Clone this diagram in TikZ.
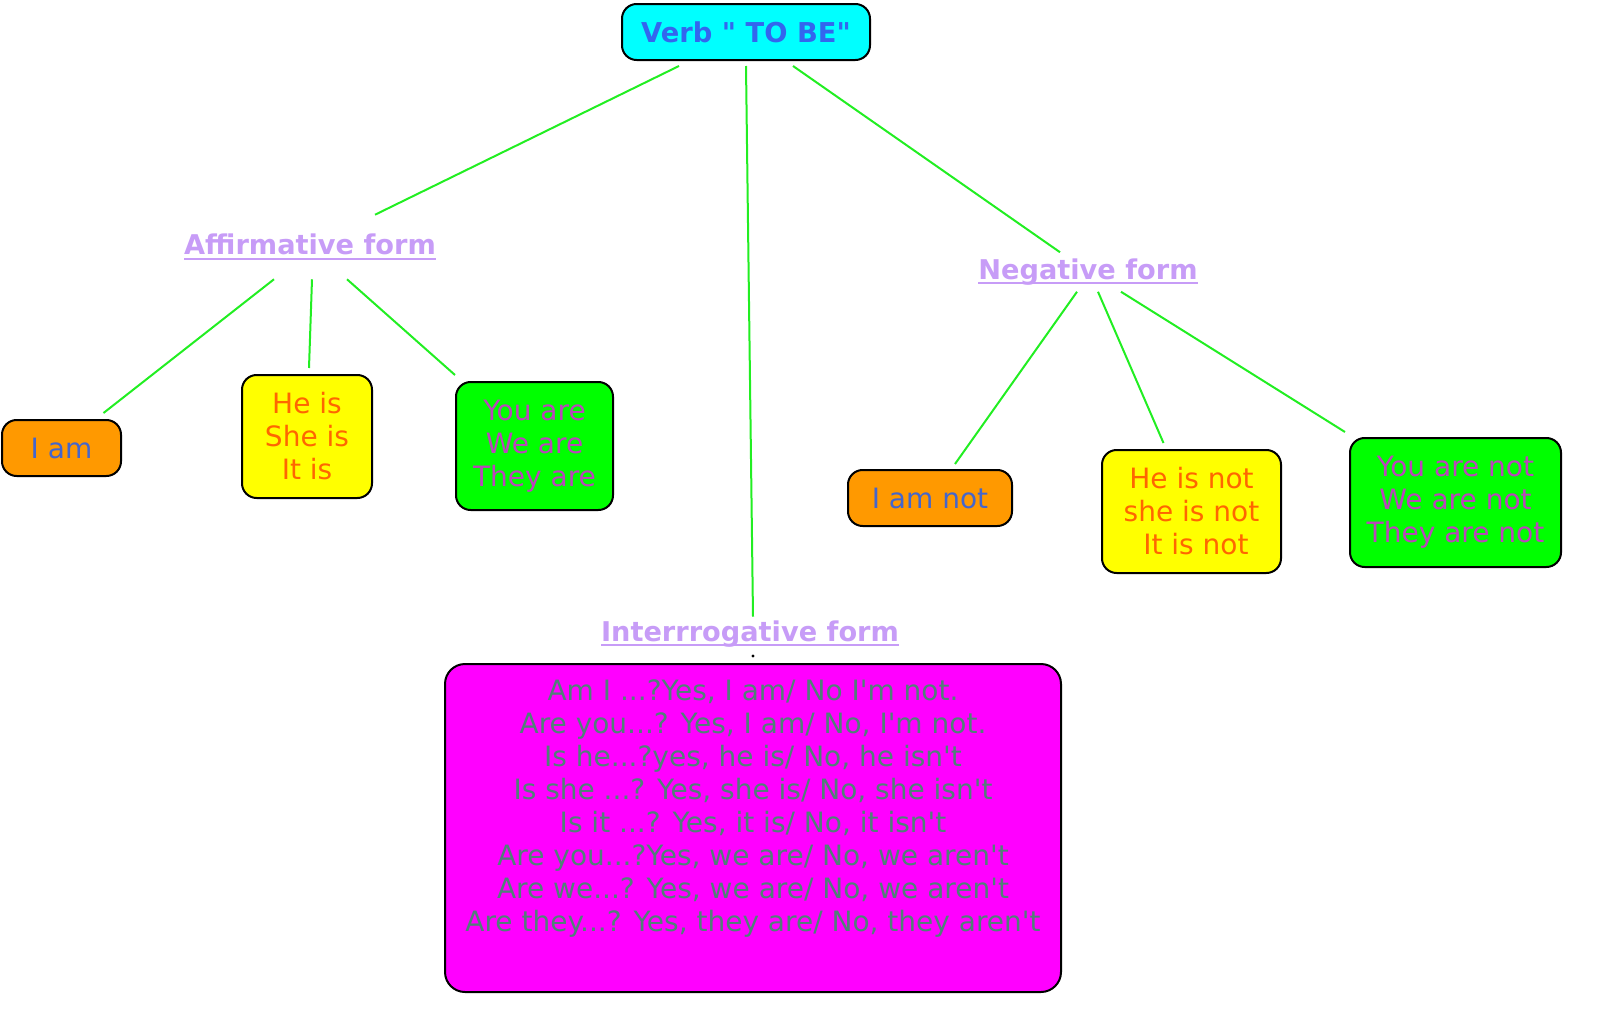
\documentclass[tikz,border=0pt]{standalone}
\usepackage{fontspec}
\setmainfont{DejaVu Sans}[Ligatures=TeXOff]
\usetikzlibrary{calc}
\newcommand{\headul}[1]{\setbox0\hbox{#1}\rlap{\vrule height -2.2pt depth 3.8pt width \wd0}\box0}

\definecolor{verbfill}{HTML}{00FFFF}
\definecolor{verbtext}{HTML}{3366EE}
\definecolor{headpurple}{HTML}{C79CF7}
\definecolor{linegreen}{HTML}{22EE22}
\definecolor{amfill}{HTML}{FF9900}
\definecolor{amtext}{HTML}{4466CC}
\definecolor{isfill}{HTML}{FFFF00}
\definecolor{istext}{HTML}{FF6600}
\definecolor{arefill}{HTML}{00FF00}
\definecolor{aretext}{HTML}{BB44BB}
\definecolor{askfill}{HTML}{FF00FF}
\definecolor{asktext}{HTML}{508078}

\begin{document}
\begin{tikzpicture}[x=0.75pt,y=-0.75pt]

\tikzset{box/.style = {draw, line width=1.5pt, rounded corners=11pt, inner sep=0pt, align=center, font=\fontsize{21pt}{24.75pt}\selectfont}}
\tikzset{title/.style = {inner sep=0pt, text=headpurple, font=\bfseries\fontsize{20.4pt}{24pt}\selectfont}}
\tikzset{branch/.style = {draw=linegreen, line width=1.5pt}}

\useasboundingbox (0,0) rectangle (1600,1017);

%verticies
\node[box, fill=verbfill, text=verbtext, minimum width=186pt, minimum height=42pt, font=\bfseries\fontsize{20.5pt}{24pt}\selectfont] (verb) at (746,32) {Verb " TO BE"};
\node[title, minimum height=48pt] (aff) at (310,247) {\headul{Affirmative form}};
\node[title, minimum height=29.25pt] (neg) at (1088,272) {\headul{Negative form}};
\node[title, minimum height=25.5pt] (askTitle) at (750,634) {\headul{Interrrogative form}};

\node[box, fill=amfill, text=amtext, minimum width=89.25pt, minimum height=42pt] (amA) at (61.5,448) {I am};
\node[box, fill=isfill, text=istext, minimum width=97.5pt, minimum height=92.25pt] (isA) at (307,436.5) {He is\\She is\\It is};
\node[box, fill=arefill, text=aretext, minimum width=117.75pt, minimum height=96pt] (areA) at (534.5,446) {You are\\We are\\They are};

\node[box, fill=amfill, text=amtext, minimum width=123pt, minimum height=42pt] (amN) at (930,498) {I am not};
\node[box, fill=isfill, text=istext, minimum width=134.25pt, minimum height=92.25pt] (isN) at (1191.5,511.5) {He is not\\she is not\\\ It is not};
\node[box, fill=arefill, text=aretext, minimum width=158.25pt, minimum height=96.75pt] (areN) at (1455.5,502.5) {You are not\\We are not\\They are not};

\node[box, fill=askfill, rounded corners=15pt, minimum width=462pt, minimum height=246pt] (ask) at (753,828) {};
\node[inner sep=0pt, align=center, text=asktext, font=\fontsize{21pt}{24.75pt}\selectfont] (askText) at (753,809) {Am I ...?Yes, I am/ No I'm not.\\Are you...? Yes, I am/ No, I'm not.\\Is he...?yes, he is/ No, he isn't\hspace{24pt}\\Is she ...? Yes, she is/ No, she isn't\\Is it ...? Yes, it is/ No, it isn't\\Are you...?Yes, we are/ No, we aren't\\Are we...? Yes, we are/ No, we aren't\\Are they...? Yes, they are/ No, they aren't};
\fill ($(ask.north)+(0,-7)$) circle (1.2pt);

%edges
\draw[branch] ($(verb.south)+(-67,5)$) -- ($(aff.north)+(65,0)$);
\draw[branch] ($(verb.south)+(0,5)$) -- ($(askTitle.north)+(3,0)$);
\draw[branch] ($(verb.south)+(47,5)$) -- ($(neg.north)+(-28,0)$);

\draw[branch] ($(aff.south)+(-36,0)$) -- ($(amA.north)+(42,-6)$);
\draw[branch] ($(aff.south)+(2,0)$) -- ($(isA.north)+(2,-6)$);
\draw[branch] ($(aff.south)+(37,0)$) -- ($(areA.north west)+(0,-6)$);

\draw[branch] ($(neg.south)+(-11,0)$) -- ($(amN.north)+(25,-5)$);
\draw[branch] ($(neg.south)+(10,0)$) -- ($(isN.north)+(-28,-6)$);
\draw[branch] ($(neg.south)+(33,0)$) -- ($(areN.north west)+(-4,-5)$);

\end{tikzpicture}
\end{document}
